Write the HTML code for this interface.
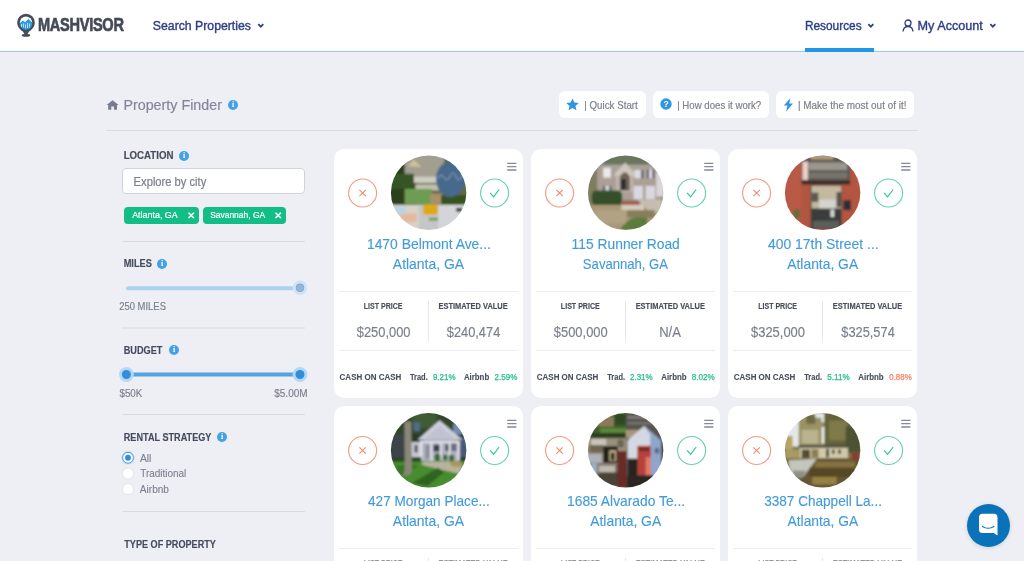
<!DOCTYPE html>
<html lang="en">
<head>
<meta charset="utf-8">
<title>Mashvisor - Property Finder</title>
<style>
*{box-sizing:border-box;margin:0;padding:0}
html,body{width:1024px;height:561px;overflow:hidden}
body{background:#edeff5;font-family:"Liberation Sans",Arial,sans-serif;color:#4a4f5e;position:relative}
.abs{position:absolute;white-space:nowrap}
header{position:absolute;left:0;top:0;width:1024px;height:52px;background:#fff;border-bottom:1px solid #8fcdf3}
.tx0,.nav,.title,.bt,.lab,.lab2,.sm,.rl,.it,.tt,.tx,.addr,.h,.v,.coc{position:absolute;white-space:nowrap;transform-origin:0 50%}
.nav{font-size:13px;line-height:18px;color:#2f3f86;-webkit-text-stroke:0.4px #2f3f86}
.logo-text{position:absolute;left:38px;top:11px;font-size:19px;line-height:28px;font-weight:bold;color:#454b57;letter-spacing:-0.4px;transform:scaleX(.768);transform-origin:0 50%;white-space:nowrap;-webkit-text-stroke:0.7px #454b57}
.title{font-size:15px;line-height:18px;color:#80859a;-webkit-text-stroke:0.15px #80859a}
.hr{position:absolute;height:1px;background:#d8dae4}
.btn{position:absolute;top:91px;height:27px;background:#fff;border-radius:6px}
.bt{position:absolute;font-size:11px;line-height:14px;color:#7d818c;white-space:nowrap;-webkit-text-stroke:0.2px #7d818c}
.lab{font-size:10.2px;line-height:14px;font-weight:bold;color:#454b5e;-webkit-text-stroke:0.15px #454b5e}
.lab2{font-size:10.2px;line-height:14px;font-weight:bold;color:#454b5e;-webkit-text-stroke:0.15px #454b5e}
.sm{position:absolute;font-size:10.5px;line-height:14px;color:#7a7f8b;white-space:nowrap;-webkit-text-stroke:0.15px #7a7f8b}
.rl{position:absolute;font-size:11px;line-height:14px;color:#7a7f8b;white-space:nowrap;-webkit-text-stroke:0.1px #7a7f8b}
.info{position:absolute;width:10px;height:10px;border-radius:50%;background:#45a1e6;color:#fff;font-size:8px;line-height:10px;text-align:center;font-weight:bold;font-family:"Liberation Serif",serif}
.input{position:absolute;left:122px;top:168px;width:183px;height:26px;background:#fff;border:1px solid #cfd3db;border-radius:4px}
.it{position:absolute;font-size:12px;line-height:16px;color:#7a7f8b;white-space:nowrap;-webkit-text-stroke:0.2px #7a7f8b}
.tag{position:absolute;top:207px;height:17px;background:#12bd86;border-radius:4px}
.tt{position:absolute;font-size:9.6px;line-height:13px;color:#fff;white-space:nowrap;-webkit-text-stroke:0.2px #fff}
.tx{position:absolute;font-size:9.5px;line-height:13px;color:#fff;white-space:nowrap;font-weight:bold}
.card{position:absolute;width:189px;height:249px;background:#fff;border-radius:10px;overflow:hidden}
.card .photo{position:absolute;left:51px;top:1px;width:88px;height:85px}
.card .ic{position:absolute;left:0;top:0}
.card .no,.card .yes{position:absolute;top:30px;width:29px;height:29px;border-radius:50%;border:1px solid #f4957d;background:#fff}
.card .no{left:14px}
.card .yes{left:146px;border-color:#5fd0a8}
.card .no svg,.card .yes svg{position:absolute;left:0;top:0}
.card .menu{position:absolute;left:173px;top:14px;width:9px;height:8px;border-top:1.5px solid #5a5f70;border-bottom:1.5px solid #5a5f70}
.card .menu:after{content:"";position:absolute;left:0;top:1.8px;width:9px;height:1.5px;background:#5a5f70}
.addr{font-size:14.5px;line-height:21px;color:#429bd9;-webkit-text-stroke:0.12px #429bd9}
.card .l1{position:absolute;left:5px;top:142px;width:179px;height:1px;background:#eceef1}
.card .l2{position:absolute;left:5px;top:201px;width:179px;height:1px;background:#eceef1}
.card .lv{position:absolute;left:94px;top:152px;width:1px;height:41px;background:#e6e8ec}
.h{font-size:8.2px;line-height:12px;font-weight:bold;color:#4a4f5e;-webkit-text-stroke:0.15px #4a4f5e}
.v{position:absolute;font-size:14px;line-height:16px;color:#7a7f8b;white-space:nowrap;-webkit-text-stroke:0.15px #7a7f8b}
.coc{font-size:8.7px;line-height:12px;font-weight:bold;color:#4a4f5e;-webkit-text-stroke:0.12px #4a4f5e}
.g{color:#22c08a;font-weight:normal;-webkit-text-stroke:0.25px #22c08a}
.r{color:#f4805f;font-weight:normal;-webkit-text-stroke:0.25px #f4805f}
</style>
</head>
<body>

<header>
  <svg class="abs" style="left:16px;top:13px" width="20" height="25" viewBox="0 0 20 25">
    <path d="M10 0.700a8.800 8.800 0 0 1 8.800 8.800c0 3.900-2.600 7-5.700 8.900l-1.600 2.600h-3l-1.600-2.600C3.800 16.500 1.200 13.400 1.200 9.500A8.800 8.800 0 0 1 10 0.700z" fill="#454b57"/>
    <ellipse cx="10" cy="22.300" rx="4.200" ry="1.500" fill="#454b57"/>
    <circle cx="10" cy="9.500" r="6.100" fill="#fff"/>
    <path d="M3.900 9.500l3-2.300 2.300 1.600 3.200-3.200 3.700 3.300v1.800a6.100 6.100 0 0 1-12.200 0z" fill="#2f9be8"/>
    <path d="M5.500 11v3M7.500 10.500v4M9.500 11.500v3.500M11.500 10v5M13.500 10.500v4" stroke="#d8ecfa" stroke-width="0.800" fill="none"/>
    <path d="M3.900 9.500l3-2.300 2.300 1.600 3.200-3.200 3.700 3.300" fill="none" stroke="#e8f3fb" stroke-width="0.900"/>
  </svg>
  <div class="logo-text">MASHVISOR</div>
  <div id="n1" class="nav" style="left:152px;top:17px;transform:translateX(0.86px) scaleX(0.9422);">Search Properties</div><svg class="abs" style="left:256.5px;top:23px" width="8" height="6" viewBox="0 0 8 6"><path d="M1.300 1.200L3.800 3.700 6.300 1.200" fill="none" stroke="#2f3f86" stroke-width="1.700"/></svg><div id="n2" class="nav" style="left:804px;top:17px;transform:translateX(0.95px) scaleX(0.9117);">Resources</div><svg class="abs" style="left:867px;top:23px" width="8" height="6" viewBox="0 0 8 6"><path d="M1.300 1.200L3.800 3.700 6.300 1.200" fill="none" stroke="#2f3f86" stroke-width="1.700"/></svg>
  <div class="abs" style="left:805px;top:48px;width:69px;height:4px;background:#2196e8"></div>
  <svg class="abs" style="left:902px;top:19px" width="12" height="13" viewBox="0 0 12 13"><circle cx="6" cy="4" r="3" fill="none" stroke="#2f3f86" stroke-width="1.300"/><path d="M1 12.500c0.300-3 2.200-5 5-5s4.700 2 5 5" fill="none" stroke="#2f3f86" stroke-width="1.300"/></svg>
  <div id="n3" class="nav" style="left:917px;top:17px;transform:translateX(0.55px) scaleX(0.9719);">My Account</div><svg class="abs" style="left:989px;top:23px" width="8" height="6" viewBox="0 0 8 6"><path d="M1.300 1.200L3.800 3.700 6.300 1.200" fill="none" stroke="#2f3f86" stroke-width="1.700"/></svg>
</header>


<svg class="abs" style="left:106px;top:100px" width="13" height="10" viewBox="0 0 13 10"><path d="M6.600 0.200L0.600 5.100h1.600v4.700h3.100V6.600h2.600v3.200h3.100V5.100h1.600z" fill="#767b8e"/></svg>
<div id="ti" class="title" style="left:123px;top:96px;transform:translateX(0.4px) scaleX(0.953);">Property Finder</div>
<div class="info" style="left:228px;top:100px">i</div>
<div class="hr" style="left:107px;top:130px;width:810px"></div>
<div class="btn" style="left:559px;width:87px"></div>
<div class="btn" style="left:653px;width:116px"></div>
<div class="btn" style="left:776px;width:138px"></div>
<div id="b1" class="bt" style="left:584px;top:98px;transform:translateX(0.28px) scaleX(0.8871);">| Quick Start</div><div id="b2" class="bt" style="left:677px;top:98px;transform:translateX(0.14px) scaleX(0.8781);">| How does it work?</div><div id="b3" class="bt" style="left:797px;top:98px;transform:translateX(0.92px) scaleX(0.9021);">| Make the most out of it!</div>
<svg class="abs" style="left:566px;top:98px" width="13" height="13" viewBox="0 0 13 13"><path d="M6.500 0.500l1.900 4 4.300 0.500-3.200 3 0.900 4.300-3.900-2.200-3.900 2.200 0.900-4.300-3.200-3 4.300-0.500z" fill="#2f96e0"/></svg>
<svg class="abs" style="left:660px;top:98px" width="12" height="12" viewBox="0 0 12 12"><circle cx="6" cy="6" r="5.700" fill="#2f96e0"/><text x="6" y="9" font-size="8.500" font-weight="bold" text-anchor="middle" fill="#fff" font-family="Liberation Sans, sans-serif">?</text></svg>
<svg class="abs" style="left:782.500px;top:97.500px" width="11" height="14" viewBox="0 0 11 14"><path d="M7.300 0.300L0.800 7.600h3.700L3 13.700l7-8.300H6.200z" fill="#2f96e0"/></svg>

<div id="s1" class="lab" style="left:123px;top:149px;transform:translateX(0.65px) scaleX(0.9488);">LOCATION</div>
<div class="info" style="left:179px;top:151px">i</div>
<div class="input"></div>
<div id="s2" class="it" style="left:133px;top:174px;transform:translateX(0.62px) scaleX(0.9313);">Explore by city</div>
<div class="tag" style="left:124px;width:75px"></div>
<div class="tag" style="left:203px;width:83px"></div>
<div id="s3" class="tt" style="left:132px;top:208px;transform:translateX(0.15px) scaleX(0.9294);">Atlanta, GA</div><div id="s3x" class="tx" style="left:186px;top:209px;transform:translateX(0.5px) scaleX(1.0);">&#10005;</div><div id="s4" class="tt" style="left:210px;top:208px;transform:translateX(0.15px) scaleX(0.8809);">Savannah, GA</div><div id="s4x" class="tx" style="left:273px;top:209px;transform:translateX(0.75px) scaleX(1.0);">&#10005;</div>
<div class="hr" style="left:122px;top:241px;width:183px"></div>
<div id="s5" class="lab" style="left:123px;top:257px;transform:translateX(0.67px) scaleX(0.9042);">MILES</div>
<div class="info" style="left:157px;top:259px">i</div>
<svg class="abs" style="left:110px;top:276px" width="204" height="24" viewBox="0 0 204 24">
<rect x="16" y="10.250" width="174" height="4" rx="2" fill="#a9d2f1"/>
<circle cx="190" cy="11.750" r="7.300" fill="#cfe3f5"/><circle cx="190" cy="11.750" r="3.900" fill="#93b8da" stroke="#7c9fc2" stroke-width="0.700"/></svg>
<div id="s6" class="sm" style="left:119px;top:299px;transform:translateX(0.23px) scaleX(0.8998);">250 MILES</div>
<div class="hr" style="left:122px;top:327px;width:183px;height:2px;opacity:.55"></div>
<div id="s7" class="lab2" style="left:123px;top:344px;transform:translateX(0.67px) scaleX(0.9018);">BUDGET</div>
<div class="info" style="left:169px;top:345px">i</div>
<svg class="abs" style="left:110px;top:362px" width="204" height="24" viewBox="0 0 204 24">
<rect x="16" y="10.500" width="174" height="4" rx="2" fill="#52a4e2"/>
<circle cx="16.400" cy="12.500" r="7.400" fill="#b5d8f4"/><circle cx="16.400" cy="12.500" r="4.500" fill="#2f8fdc"/>
<circle cx="190" cy="12.500" r="7.400" fill="#b5d8f4"/><circle cx="190" cy="12.500" r="4.500" fill="#2f8fdc"/></svg>
<div id="s8" class="sm" style="left:119px;top:386px;transform:translateX(0.46px) scaleX(0.9273);">$50K</div><div id="s9" class="sm" style="left:274px;top:386px;transform:translateX(0.25px) scaleX(0.9521);">$5.00M</div>
<div class="hr" style="left:122px;top:414px;width:183px"></div>
<div id="s10" class="lab2" style="left:123px;top:431px;transform:translateX(0.79px) scaleX(0.8945);">RENTAL STRATEGY</div>
<div class="info" style="left:217px;top:432px">i</div>
<svg class="abs" style="left:118px;top:448px" width="20" height="52" viewBox="0 0 20 52">
<circle cx="10" cy="9.750" r="6.800" fill="#c3ddf3"/><circle cx="10" cy="9.750" r="5.400" fill="#fff" stroke="#4a9fe0" stroke-width="1"/><circle cx="10" cy="9.750" r="2.900" fill="#2f8fdc"/>
<circle cx="10" cy="25.500" r="5.600" fill="#fff" stroke="#e1e4eb" stroke-width="1"/>
<circle cx="10" cy="41.100" r="5.600" fill="#fff" stroke="#e1e4eb" stroke-width="1"/></svg>
<div id="s11" class="rl" style="left:139px;top:450.5px;transform:translateX(0.95px) scaleX(0.9365);">All</div><div id="s12" class="rl" style="left:140px;top:466px;transform:translateX(0.25px) scaleX(0.9035);">Traditional</div><div id="s13" class="rl" style="left:139px;top:482px;transform:translateX(0.87px) scaleX(0.9139);">Airbnb</div>
<div class="hr" style="left:122px;top:511px;width:183px"></div>
<div id="s14" class="lab2" style="left:124px;top:538px;transform:translateX(0.25px) scaleX(0.8948);">TYPE OF PROPERTY</div>
<div class="card" style="left:334px;top:149px">
  <svg class="photo" viewBox="0 0 581 561" preserveAspectRatio="none"><defs><clipPath id="pc1"><ellipse cx="288" cy="282" rx="249" ry="246"/></clipPath><filter id="pf1" x="-10%" y="-10%" width="120%" height="120%"><feGaussianBlur stdDeviation="6"/></filter></defs><g clip-path="url(#pc1)"><g transform="translate(0 -3)"><g filter="url(#pf1)"><rect x="0" y="0" width="581" height="561" fill="#5c6b46"/><rect x="30" y="80" width="180" height="290" fill="#2a3f1f"/><rect x="130" y="30" width="260" height="170" fill="#a29e90"/><path d="M150 110l40-45 50 50z" fill="#cfc29a"/><rect x="190" y="180" width="170" height="40" fill="#cfcdc2"/><rect x="200" y="230" width="160" height="40" fill="#c2bfb2"/><rect x="130" y="260" width="180" height="100" fill="#6e9c52"/><rect x="40" y="160" width="150" height="100" fill="#365526"/><rect x="300" y="290" width="80" height="70" fill="#a8906a"/><rect x="370" y="300" width="170" height="65" fill="#35521f"/><ellipse cx="432" cy="195" rx="95" ry="118" fill="#47698c"/><path d="M350 190q20-40 40-5t40-10 40 5 40-15" stroke="#9fb4cc" stroke-width="5" fill="none"/><rect x="0" y="365" width="581" height="200" fill="#d6d9dc"/><rect x="50" y="365" width="170" height="160" fill="#d9d3c6"/><rect x="100" y="420" width="110" height="60" fill="#e4b9a0"/><rect x="60" y="375" width="80" height="50" fill="#bcd3e2"/><rect x="222" y="365" width="130" height="170" fill="#c4c6c8"/><rect x="250" y="362" width="100" height="68" rx="20" fill="#e0a818"/><rect x="290" y="450" width="60" height="18" fill="#6c9a4a"/><rect x="356" y="365" width="200" height="170" fill="#d3d5d9"/><rect x="470" y="385" width="40" height="25" fill="#3a3a3a"/></g></g></g></svg>
  <svg class="ic" width="189" height="90" viewBox="0 0 189 90"><circle cx="28.600" cy="44" r="14" fill="#fff" stroke="#f59a84" stroke-width="1.150"/><path d="M25.400 40.8l6.400 6.400M31.800 40.8l-6.400 6.400" stroke="#f4876a" stroke-width="1.050" fill="none"/><circle cx="160.600" cy="44" r="14" fill="#fff" stroke="#66d2ad" stroke-width="1.150"/><path d="M156.100 43.8l3.500 4 5.600-7.300" stroke="#2cc492" stroke-width="1.150" fill="none"/><path d="M173.200 14.400h9.200M173.200 17.700h9.200M173.200 21h9.200" stroke="#858999" stroke-width="1.300" fill="none"/></svg>
<div id="c1a1" class="addr" style="left:32px;top:85px;transform:translateX(0.94px) scaleX(0.9568);">1470 Belmont Ave...</div><div id="c1a2" class="addr" style="left:58px;top:105px;transform:translateX(0.87px) scaleX(0.9605);">Atlanta, GA</div>
  <div class="l1"></div><div class="l2"></div><div class="lv"></div>
<div id="c1h1" class="h" style="left:29px;top:152px;transform:translateX(0.69px) scaleX(0.8619);">LIST PRICE</div><div id="c1h2" class="h" style="left:104px;top:152px;transform:translateX(0.44px) scaleX(0.9099);">ESTIMATED VALUE</div>
<div id="c1v1" class="v" style="left:22px;top:175px;transform:translateX(0.76px) scaleX(0.9202);">$250,000</div><div id="c1v2" class="v" style="left:112px;top:175px;transform:translateX(0.75px) scaleX(0.9167);">$240,474</div>
<div id="c1k1" class="coc" style="left:5px;top:222px;transform:translateX(0.59px) scaleX(0.9195);">CASH ON CASH</div><div id="c1k2" class="coc" style="left:75px;top:222px;transform:translateX(0.91px) scaleX(0.8575);">Trad.</div><div id="c1k3" class="coc g" style="left:98px;top:222px;transform:translateX(0.9px) scaleX(0.9164);">9.21%</div><div id="c1k4" class="coc" style="left:129px;top:222px;transform:translateX(0.92px) scaleX(0.903);">Airbnb</div><div id="c1k5" class="coc g" style="left:160px;top:222px;transform:translateX(0.62px) scaleX(0.9238);">2.59%</div>
</div>
<div class="card" style="left:531px;top:149px">
  <svg class="photo" viewBox="0 0 581 561" preserveAspectRatio="none"><defs><clipPath id="pc2"><ellipse cx="288" cy="282" rx="249" ry="246"/></clipPath><filter id="pf2" x="-10%" y="-10%" width="120%" height="120%"><feGaussianBlur stdDeviation="6"/></filter></defs><g clip-path="url(#pc2)"><g transform="translate(0 -3)"><g filter="url(#pf2)"><rect x="0" y="0" width="581" height="561" fill="#968e7e"/><rect x="40" y="30" width="500" height="110" fill="#7c8088"/><rect x="150" y="40" width="280" height="60" fill="#6a745e"/><rect x="100" y="100" width="420" height="230" fill="#aaa096"/><rect x="140" y="120" width="50" height="65" fill="#ebe9ee"/><rect x="345" y="135" width="45" height="55" fill="#dcdae2"/><rect x="390" y="135" width="14" height="55" fill="#4a4d66"/><rect x="430" y="130" width="14" height="60" fill="#4a4d66"/><rect x="444" y="130" width="20" height="60" fill="#e4e2ea"/><rect x="464" y="130" width="12" height="60" fill="#4a4d66"/><path d="M215 160l70-75 65 75v20h-135z" fill="#cfc6be"/><rect x="225" y="170" width="110" height="110" fill="#bfb6ae"/><path d="M250 180q35-60 65 0v90h-65z" fill="#6e6355"/><rect x="258" y="195" width="32" height="70" fill="#2b2f38"/><rect x="340" y="240" width="62" height="88" fill="#d9d7e0"/><rect x="420" y="240" width="62" height="88" fill="#d9d7e0"/><rect x="490" y="150" width="50" height="160" fill="#d8d6d8"/><rect x="140" y="240" width="14" height="35" fill="#3f4258"/><rect x="154" y="240" width="28" height="35" fill="#d6d4dc"/><rect x="182" y="240" width="12" height="35" fill="#3f4258"/><rect x="40" y="140" width="60" height="230" fill="#7f7d60"/><rect x="65" y="270" width="200" height="100" rx="30" fill="#34502a"/><rect x="40" y="365" width="500" height="170" fill="#a89878"/><rect x="260" y="360" width="150" height="40" fill="#d3cbbd"/><path d="M360 330h170v60l-60 40z" fill="#c4bdb0"/><rect x="260" y="340" width="120" height="25" fill="#a35a4a"/><path d="M250 530q60-100 180-90v90z" fill="#5a7d3b"/><rect x="90" y="400" width="200" height="90" fill="#b0a282"/><rect x="300" y="400" width="180" height="50" fill="#8a7c5c"/></g></g></g></svg>
  <svg class="ic" width="189" height="90" viewBox="0 0 189 90"><circle cx="28.600" cy="44" r="14" fill="#fff" stroke="#f59a84" stroke-width="1.150"/><path d="M25.400 40.8l6.400 6.400M31.800 40.8l-6.400 6.400" stroke="#f4876a" stroke-width="1.050" fill="none"/><circle cx="160.600" cy="44" r="14" fill="#fff" stroke="#66d2ad" stroke-width="1.150"/><path d="M156.100 43.8l3.500 4 5.600-7.300" stroke="#2cc492" stroke-width="1.150" fill="none"/><path d="M173.200 14.400h9.200M173.200 17.700h9.200M173.200 21h9.200" stroke="#858999" stroke-width="1.300" fill="none"/></svg>
<div id="c2a1" class="addr" style="left:40px;top:85px;transform:translateX(0.62px) scaleX(0.9537);">115 Runner Road</div><div id="c2a2" class="addr" style="left:51px;top:105px;transform:translateX(0.87px) scaleX(0.9029);">Savannah, GA</div>
  <div class="l1"></div><div class="l2"></div><div class="lv"></div>
<div id="c2h1" class="h" style="left:29px;top:152px;transform:translateX(0.84px) scaleX(0.864);">LIST PRICE</div><div id="c2h2" class="h" style="left:104px;top:152px;transform:translateX(0.65px) scaleX(0.9093);">ESTIMATED VALUE</div>
<div id="c2v1" class="v" style="left:22px;top:175px;transform:translateX(0.81px) scaleX(0.9225);">$500,000</div><div id="c2v2" class="v" style="left:128px;top:175px;transform:translateX(0.15px) scaleX(0.9331);">N/A</div>
<div id="c2k1" class="coc" style="left:5px;top:222px;transform:translateX(0.81px) scaleX(0.9175);">CASH ON CASH</div><div id="c2k2" class="coc" style="left:76px;top:222px;transform:translateX(0.2px) scaleX(0.8574);">Trad.</div><div id="c2k3" class="coc g" style="left:99px;top:222px;transform:translateX(0.0px) scaleX(0.9204);">2.31%</div><div id="c2k4" class="coc" style="left:130px;top:222px;transform:translateX(0.25px) scaleX(0.9063);">Airbnb</div><div id="c2k5" class="coc g" style="left:160px;top:222px;transform:translateX(0.84px) scaleX(0.9285);">8.02%</div>
</div>
<div class="card" style="left:728px;top:149px">
  <svg class="photo" viewBox="0 0 581 561" preserveAspectRatio="none"><defs><clipPath id="pc3"><ellipse cx="288" cy="282" rx="249" ry="246"/></clipPath><filter id="pf3" x="-10%" y="-10%" width="120%" height="120%"><feGaussianBlur stdDeviation="6"/></filter></defs><g clip-path="url(#pc3)"><g transform="translate(0 -3)"><g filter="url(#pf3)"><rect x="0" y="0" width="581" height="561" fill="#b3553f"/><rect x="40" y="30" width="110" height="500" fill="#b85a44"/><rect x="150" y="40" width="320" height="180" fill="#5e5a55"/><rect x="210" y="40" width="150" height="25" fill="#b5a07a"/><rect x="155" y="80" width="36" height="120" fill="#ecd0c8"/><rect x="195" y="85" width="255" height="50" fill="#9a968e"/><rect x="195" y="150" width="255" height="40" fill="#77736c"/><rect x="150" y="205" width="320" height="25" fill="#3a2a26"/><rect x="208" y="235" width="205" height="290" fill="#4a4a46"/><rect x="215" y="240" width="195" height="150" fill="#c2b9a0"/><rect x="215" y="285" width="45" height="60" fill="#5a5a50"/><rect x="380" y="280" width="30" height="100" fill="#55554c"/><rect x="265" y="330" width="110" height="60" fill="#d6d3cc"/><rect x="215" y="390" width="195" height="135" fill="#3b3d3c"/><rect x="340" y="395" width="25" height="50" fill="#d8d8d8"/><rect x="225" y="470" width="170" height="50" fill="#5c5e5c"/><rect x="425" y="335" width="50" height="65" fill="#2c2f3a"/><rect x="95" y="395" width="45" height="60" fill="#6a6a3a"/></g></g></g></svg>
  <svg class="ic" width="189" height="90" viewBox="0 0 189 90"><circle cx="28.600" cy="44" r="14" fill="#fff" stroke="#f59a84" stroke-width="1.150"/><path d="M25.400 40.8l6.400 6.400M31.800 40.8l-6.400 6.400" stroke="#f4876a" stroke-width="1.050" fill="none"/><circle cx="160.600" cy="44" r="14" fill="#fff" stroke="#66d2ad" stroke-width="1.150"/><path d="M156.100 43.8l3.500 4 5.600-7.300" stroke="#2cc492" stroke-width="1.150" fill="none"/><path d="M173.200 14.400h9.200M173.200 17.700h9.200M173.200 21h9.200" stroke="#858999" stroke-width="1.300" fill="none"/></svg>
<div id="c3a1" class="addr" style="left:40px;top:85px;transform:translateX(0.0px) scaleX(0.9598);">400 17th Street ...</div><div id="c3a2" class="addr" style="left:59px;top:105px;transform:translateX(0.25px) scaleX(0.9562);">Atlanta, GA</div>
  <div class="l1"></div><div class="l2"></div><div class="lv"></div>
<div id="c3h1" class="h" style="left:30px;top:152px;transform:translateX(0.15px) scaleX(0.8617);">LIST PRICE</div><div id="c3h2" class="h" style="left:104px;top:152px;transform:translateX(0.82px) scaleX(0.9112);">ESTIMATED VALUE</div>
<div id="c3v1" class="v" style="left:23px;top:175px;transform:translateX(0.02px) scaleX(0.9238);">$325,000</div><div id="c3v2" class="v" style="left:113px;top:175px;transform:translateX(0.25px) scaleX(0.9166);">$325,574</div>
<div id="c3k1" class="coc" style="left:5px;top:222px;transform:translateX(0.81px) scaleX(0.9175);">CASH ON CASH</div><div id="c3k2" class="coc" style="left:76px;top:222px;transform:translateX(0.2px) scaleX(0.8574);">Trad.</div><div id="c3k3" class="coc g" style="left:99px;top:222px;transform:translateX(0.32px) scaleX(0.9371);">5.11%</div><div id="c3k4" class="coc" style="left:130px;top:222px;transform:translateX(0.25px) scaleX(0.9074);">Airbnb</div><div id="c3k5" class="coc r" style="left:161px;top:222px;transform:translateX(0.25px) scaleX(0.9101);">0.88%</div>
</div>
<div class="card" style="left:334px;top:406px">
  <svg class="photo" viewBox="0 0 581 561" preserveAspectRatio="none"><defs><clipPath id="pc4"><ellipse cx="288" cy="286" rx="249" ry="246"/></clipPath><filter id="pf4" x="-10%" y="-10%" width="120%" height="120%"><feGaussianBlur stdDeviation="6"/></filter></defs><g clip-path="url(#pc4)"><g transform="translate(0 1)"><g filter="url(#pf4)"><rect x="0" y="0" width="581" height="561" fill="#2c382c"/><rect x="40" y="30" width="500" height="150" fill="#33472c"/><rect x="180" y="40" width="160" height="100" fill="#3f5c36"/><rect x="450" y="110" width="60" height="70" fill="#6f8fb0"/><rect x="490" y="200" width="50" height="130" fill="#4a5a78"/><rect x="40" y="180" width="90" height="160" fill="#3a4448"/><rect x="190" y="100" width="40" height="60" fill="#4f6c8a"/><path d="M215 215l145-128 152 128z" fill="#cdcfda"/><path d="M250 220l110-100 115 100z" fill="#bfc2d0"/><rect x="170" y="230" width="70" height="110" fill="#c5c8d4"/><rect x="196" y="250" width="18" height="48" fill="#3a3d44"/><rect x="232" y="222" width="260" height="135" fill="#aeb2c2"/><rect x="232" y="222" width="260" height="14" fill="#e2e3ea"/><rect x="232" y="230" width="14" height="130" fill="#e6e7ec"/><rect x="300" y="230" width="12" height="130" fill="#e6e7ec"/><rect x="362" y="230" width="12" height="110" fill="#e6e7ec"/><rect x="420" y="230" width="12" height="110" fill="#e6e7ec"/><rect x="478" y="230" width="14" height="120" fill="#e6e7ec"/><rect x="320" y="248" width="40" height="45" fill="#3c3f48"/><rect x="400" y="245" width="18" height="45" fill="#3c3f48"/><rect x="436" y="240" width="38" height="50" fill="#6a6e80"/><rect x="268" y="250" width="26" height="90" fill="#8a8e9a"/><rect x="40" y="355" width="500" height="180" fill="#468c2e"/><path d="M40 400l120-30 60 20-140 70z" fill="#3a7426"/><rect x="40" y="330" width="200" height="30" fill="#2f4426"/><ellipse cx="346" cy="330" rx="20" ry="26" fill="#3f6a30"/><ellipse cx="398" cy="332" rx="16" ry="20" fill="#3f6a30"/><ellipse cx="440" cy="335" rx="18" ry="22" fill="#3f6a30"/><path d="M250 360h200l60 20-20 60-130-30-120-30z" fill="#b9b39e"/><ellipse cx="470" cy="375" rx="40" ry="20" fill="#a8975e"/><path d="M180 500l170-100 40 30-110 90z" fill="#2f6424"/><path d="M128 95h45l5 330-20 25h-40l12-30z" fill="#8b8678"/></g></g></g></svg>
  <svg class="ic" width="189" height="90" viewBox="0 0 189 90"><circle cx="28.600" cy="44.5" r="14" fill="#fff" stroke="#f59a84" stroke-width="1.150"/><path d="M25.400 41.3l6.400 6.400M31.800 41.3l-6.400 6.400" stroke="#f4876a" stroke-width="1.050" fill="none"/><circle cx="160.600" cy="44.5" r="14" fill="#fff" stroke="#66d2ad" stroke-width="1.150"/><path d="M156.100 44.3l3.500 4 5.600-7.300" stroke="#2cc492" stroke-width="1.150" fill="none"/><path d="M173.200 14.400h9.200M173.200 17.700h9.200M173.200 21h9.200" stroke="#858999" stroke-width="1.300" fill="none"/></svg>
<div id="c4a1" class="addr" style="left:34px;top:85px;transform:translateX(0.0px) scaleX(0.9387);">427 Morgan Place...</div><div id="c4a2" class="addr" style="left:58px;top:105px;transform:translateX(0.87px) scaleX(0.9605);">Atlanta, GA</div>
  <div class="l1"></div><div class="l2"></div><div class="lv"></div>
<div id="c4h1" class="h" style="left:29px;top:152px;transform:translateX(0.69px) scaleX(0.8619);opacity:.6;">LIST PRICE</div><div id="c4h2" class="h" style="left:104px;top:152px;transform:translateX(0.44px) scaleX(0.9099);opacity:.6;">ESTIMATED VALUE</div>
</div>
<div class="card" style="left:531px;top:406px">
  <svg class="photo" viewBox="0 0 581 561" preserveAspectRatio="none"><defs><clipPath id="pc5"><ellipse cx="288" cy="286" rx="249" ry="246"/></clipPath><filter id="pf5" x="-10%" y="-10%" width="120%" height="120%"><feGaussianBlur stdDeviation="6"/></filter></defs><g clip-path="url(#pc5)"><g transform="translate(0 1)"><g filter="url(#pf5)"><rect x="0" y="0" width="581" height="561" fill="#4a4038"/><rect x="40" y="30" width="250" height="175" fill="#43602c"/><rect x="110" y="60" width="100" height="70" fill="#8a7a58"/><rect x="215" y="45" width="75" height="75" fill="#2f4a24"/><rect x="120" y="140" width="170" height="30" fill="#5d8a3a"/><rect x="60" y="170" width="230" height="35" fill="#2c3d20"/><rect x="290" y="30" width="260" height="175" fill="#56544f"/><rect x="300" y="60" width="220" height="14" fill="#8a8882"/><rect x="300" y="100" width="220" height="12" fill="#7f7d78"/><rect x="290" y="150" width="100" height="55" fill="#a8987a"/><rect x="30" y="205" width="265" height="170" fill="#9a907c"/><rect x="60" y="210" width="100" height="40" fill="#c9c4ba"/><rect x="50" y="250" width="90" height="50" fill="#6e6654"/><rect x="140" y="258" width="95" height="110" fill="#23221f"/><rect x="180" y="285" width="45" height="70" fill="#cdb98a"/><rect x="190" y="300" width="25" height="50" fill="#1f1e1c"/><rect x="40" y="310" width="90" height="55" fill="#aeb2bc"/><rect x="235" y="215" width="40" height="50" fill="#6a6558"/><rect x="30" y="375" width="260" height="160" fill="#6f685a"/><rect x="110" y="385" width="110" height="55" fill="#bdb9b0"/><rect x="60" y="370" width="40" height="70" fill="#9ab0c8"/><rect x="110" y="430" width="130" height="90" fill="#4a4238"/><rect x="235" y="290" width="60" height="240" fill="#6b2a26"/><path d="M300 220l110-95 110 95v250h-220z" fill="#d4d8e2"/><path d="M410 125l110 95v250h-70v-290z" fill="#8fa6cc"/><rect x="300" y="340" width="70" height="190" fill="#26231f"/><rect x="365" y="255" width="90" height="205" fill="#b4423b"/><rect x="420" y="330" width="35" height="120" fill="#e07a6a"/><rect x="375" y="265" width="70" height="25" fill="#7a2a26"/><rect x="300" y="450" width="230" height="90" fill="#2b2824"/><rect x="480" y="270" width="30" height="35" fill="#5a6a88"/></g></g></g></svg>
  <svg class="ic" width="189" height="90" viewBox="0 0 189 90"><circle cx="28.600" cy="44.5" r="14" fill="#fff" stroke="#f59a84" stroke-width="1.150"/><path d="M25.400 41.3l6.400 6.400M31.800 41.3l-6.400 6.400" stroke="#f4876a" stroke-width="1.050" fill="none"/><circle cx="160.600" cy="44.5" r="14" fill="#fff" stroke="#66d2ad" stroke-width="1.150"/><path d="M156.100 44.3l3.500 4 5.600-7.300" stroke="#2cc492" stroke-width="1.150" fill="none"/><path d="M173.200 14.400h9.200M173.200 17.700h9.200M173.200 21h9.200" stroke="#858999" stroke-width="1.300" fill="none"/></svg>
<div id="c5a1" class="addr" style="left:36px;top:85px;transform:translateX(0.01px) scaleX(0.9536);">1685 Alvarado Te...</div><div id="c5a2" class="addr" style="left:59px;top:105px;transform:translateX(0.25px) scaleX(0.9562);">Atlanta, GA</div>
  <div class="l1"></div><div class="l2"></div><div class="lv"></div>
<div id="c5h1" class="h" style="left:29px;top:152px;transform:translateX(0.84px) scaleX(0.864);opacity:.6;">LIST PRICE</div><div id="c5h2" class="h" style="left:104px;top:152px;transform:translateX(0.65px) scaleX(0.9093);opacity:.6;">ESTIMATED VALUE</div>
</div>
<div class="card" style="left:728px;top:406px">
  <svg class="photo" viewBox="0 0 581 561" preserveAspectRatio="none"><defs><clipPath id="pc6"><ellipse cx="288" cy="286" rx="249" ry="246"/></clipPath><filter id="pf6" x="-10%" y="-10%" width="120%" height="120%"><feGaussianBlur stdDeviation="6"/></filter></defs><g clip-path="url(#pc6)"><g transform="translate(0 1)"><g filter="url(#pf6)"><rect x="0" y="0" width="581" height="561" fill="#7d7348"/><rect x="40" y="30" width="500" height="230" fill="#8f8a5e"/><rect x="40" y="60" width="120" height="200" fill="#e4e8ea"/><rect x="230" y="40" width="70" height="60" fill="#e2e8ec"/><rect x="280" y="130" width="50" height="110" fill="#e9edf0"/><rect x="40" y="190" width="50" height="150" fill="#b5a564"/><rect x="130" y="70" width="150" height="180" fill="#9a9262"/><rect x="150" y="150" width="110" height="90" fill="#b9b38e"/><rect x="180" y="50" width="60" height="60" fill="#6e6a40"/><rect x="300" y="40" width="240" height="220" fill="#636238"/><rect x="330" y="90" width="120" height="130" fill="#7f7a48"/><rect x="440" y="130" width="100" height="170" fill="#4e5230"/><rect x="130" y="250" width="330" height="18" fill="#4c4c48"/><rect x="135" y="268" width="320" height="68" fill="#cfc9a8"/><rect x="150" y="280" width="55" height="55" fill="#5a4a30"/><rect x="215" y="278" width="45" height="55" fill="#8a7a50"/><rect x="312" y="275" width="16" height="55" fill="#2e2e2c"/><rect x="350" y="280" width="16" height="28" fill="#4a3028"/><rect x="392" y="280" width="16" height="28" fill="#4a3028"/><rect x="40" y="280" width="90" height="70" fill="#a89a60"/><rect x="40" y="340" width="500" height="200" fill="#655632"/><path d="M60 350l190-10-90 120h-80z" fill="#c3c6bc"/><path d="M90 420h90l-30 50h-50z" fill="#8e9088"/><rect x="240" y="360" width="260" height="40" fill="#84733f"/><rect x="200" y="400" width="300" height="60" fill="#574628"/><rect x="220" y="460" width="160" height="50" fill="#94823f"/><rect x="480" y="300" width="50" height="50" fill="#8a3a30"/></g></g></g></svg>
  <svg class="ic" width="189" height="90" viewBox="0 0 189 90"><circle cx="28.600" cy="44.5" r="14" fill="#fff" stroke="#f59a84" stroke-width="1.150"/><path d="M25.400 41.3l6.400 6.400M31.800 41.3l-6.400 6.400" stroke="#f4876a" stroke-width="1.050" fill="none"/><circle cx="160.600" cy="44.5" r="14" fill="#fff" stroke="#66d2ad" stroke-width="1.150"/><path d="M156.100 44.3l3.500 4 5.600-7.300" stroke="#2cc492" stroke-width="1.150" fill="none"/><path d="M173.200 14.400h9.200M173.200 17.700h9.200M173.200 21h9.200" stroke="#858999" stroke-width="1.300" fill="none"/></svg>
<div id="c6a1" class="addr" style="left:36px;top:85px;transform:translateX(0.18px) scaleX(0.9362);">3387 Chappell La...</div><div id="c6a2" class="addr" style="left:59px;top:105px;transform:translateX(0.53px) scaleX(0.9531);">Atlanta, GA</div>
  <div class="l1"></div><div class="l2"></div><div class="lv"></div>
<div id="c6h1" class="h" style="left:30px;top:152px;transform:translateX(0.15px) scaleX(0.8617);opacity:.6;">LIST PRICE</div><div id="c6h2" class="h" style="left:104px;top:152px;transform:translateX(0.82px) scaleX(0.9112);opacity:.6;">ESTIMATED VALUE</div>
</div>


<div class="abs" style="left:967px;top:504px;width:43px;height:43px;border-radius:50%;background:#0a72b8;box-shadow:0 1px 4px rgba(0,0,0,.12)"></div>
<svg class="abs" style="left:977px;top:512px" width="24" height="26" viewBox="0 0 24 26"><path d="M5.500 1.800h11.500a3.500 3.500 0 0 1 3.500 3.500v18.300l-3.800-2.600H5.500a3.500 3.500 0 0 1-3.500-3.500V5.300a3.500 3.500 0 0 1 3.500-3.500z" fill="#fff"/><path d="M5.500 14.500c3.300 2.300 8 2.300 11.300 0" fill="none" stroke="#0a72b8" stroke-width="1.200" stroke-linecap="round"/></svg>

</body>
</html>
